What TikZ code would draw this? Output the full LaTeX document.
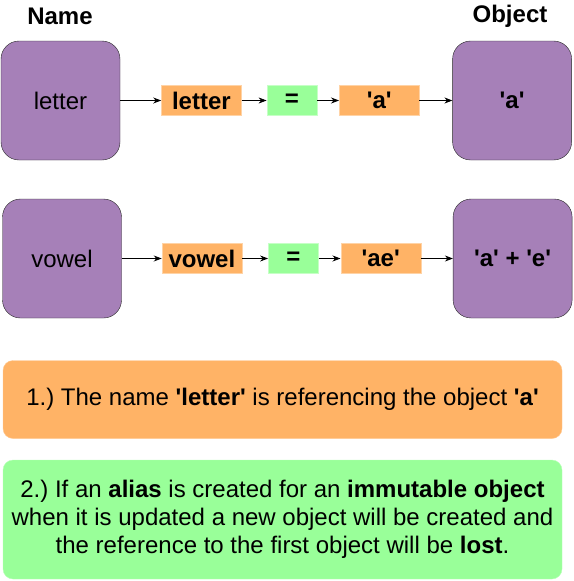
\documentclass[tikz,border=0pt]{standalone}
\usepackage{fontspec}
\setmainfont{Liberation Sans}
\usetikzlibrary{positioning,arrows.meta}
\definecolor{objpurple}{HTML}{A680B8}
\definecolor{varorange}{HTML}{FFB366}
\definecolor{varedge}{HTML}{FFD3A6}
\definecolor{opgreen}{HTML}{99FF99}
\definecolor{opedge}{HTML}{C6FFC6}
\newcommand{\quoted}[1]{\textquotesingle#1\textquotesingle}
\frenchspacing

\begin{document}
\begin{tikzpicture}[x=1pt, y=-1pt, node distance=20pt,
    font=\fontsize{24}{28}\selectfont,
    bigbox/.style={draw=black!85, fill=objpurple, rounded corners=18pt, minimum width=119pt, minimum height=119pt, inner sep=0pt},
    varbox/.style={draw=varedge, fill=varorange, minimum width=80pt, minimum height=30pt, inner sep=0pt, font=\fontsize{24}{28}\selectfont\bfseries},
    opbox/.style={draw=opedge, fill=opgreen, minimum width=50pt, minimum height=30pt, inner sep=0pt, font=\fontsize{24}{28}\selectfont\bfseries},
    notebox/.style={draw=#1!70!white, fill=#1, rounded corners=10pt, minimum width=559pt, inner sep=0pt, align=center, font=\fontsize{24}{28}\selectfont},
    link/.style={-{Stealth[length=8pt,width=6pt]}, thick}]
    \useasboundingbox (0,0) rectangle (573,581);
    % headings
    \node[font=\fontsize{24}{28}\selectfont\bfseries] (namehead) at (60,16) {Name};
    \node[font=\fontsize{24}{28}\selectfont\bfseries] (objhead) at (510,16) {Object};
    % first name
    \node[bigbox] (letter) at (60.5,100.5) {letter};
    \node[varbox, right=41pt of letter] (letvar) {letter};
    \node[opbox, right=25pt of letvar] (leteq) {=};
    \node[varbox, right=22pt of leteq] (letval) {\quoted{a}};
    \node[bigbox, font=\fontsize{24}{28}\selectfont\bfseries, right=33pt of letval] (letobj) {\quoted{a}};
    \draw[link] (letter) -- (letvar);
    \draw[link] (letvar) -- (leteq);
    \draw[link] (leteq) -- (letval);
    \draw[link] (letval) -- (letobj);
    % second name
    \node[bigbox] (vowel) at (62,258.5) {vowel};
    \node[varbox, right=40pt of vowel] (vowvar) {vowel};
    \node[opbox, right=26pt of vowvar] (voweq) {=};
    \node[varbox, right=22pt of voweq] (vowval) {\quoted{ae}};
    \node[bigbox, font=\fontsize{24}{28}\selectfont\bfseries, right=32pt of vowval] (vowobj) {\quoted{a} + \quoted{e}};
    \draw[link] (vowel) -- (vowvar);
    \draw[link] (vowvar) -- (voweq);
    \draw[link] (voweq) -- (vowval);
    \draw[link] (vowval) -- (vowobj);
    % notes
    \node[notebox=varorange, minimum height=78pt] (note1) at (282.5,399.5)
        {1.) The name \textbf{\quoted{letter}} is referencing the object \textbf{\quoted{a}}};
    \node[notebox=opgreen, minimum height=119pt] (note2) at (282.5,519.5)
        {2.) If an \textbf{alias} is created for an \textbf{immutable object}\\
         when it is updated a new object will be created and\\
         the reference to the first object will be \textbf{lost}.};
\end{tikzpicture}
\end{document}
